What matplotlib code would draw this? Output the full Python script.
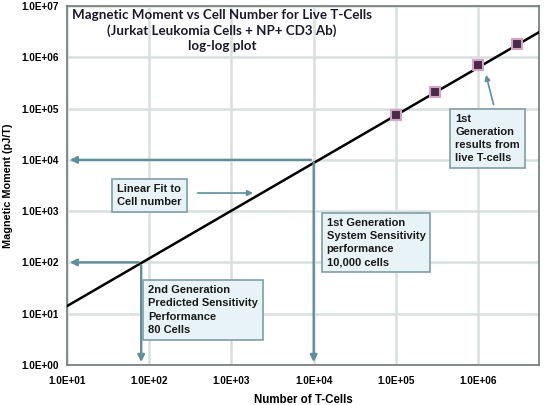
import math
import matplotlib
matplotlib.use("Agg")
import matplotlib.pyplot as plt
from matplotlib.ticker import LogLocator, FuncFormatter, NullLocator

# fit line end points and measured points
fit_cells = [10, 5.5e6]
fit_moment = [14, 3.1e6]
cells = [1e5, 3e5, 1e6, 3e6]
moment = [7.5e4, 2.1e5, 7.2e5, 1.8e6]

# sensitivity markers (cells, moment)
gen1_cells, gen1_moment = 1e4, 1e4
gen2_cells, gen2_moment = 80, 100

title_lines = ["Magnetic Moment vs Cell Number for Live T-Cells",
               "(Jurkat Leukomia Cells + NP+ CD3 Ab)",
               "log-log plot"]

plt.rcParams['font.family'] = ['Liberation Sans', 'DejaVu Sans']

arrow_col = '#5f8f99'
box_face = '#e8f3f8'
box_edge = '#7f9ea6'

fig = plt.figure(figsize=(5.44, 4.05), dpi=100)
ax = fig.add_axes([0.123, 0.099, 0.868, 0.886])
ax.set_xscale('log')
ax.set_yscale('log')
ax.set_xlim(10, 5.5e6)
ax.set_ylim(1, 1e7)

ax.xaxis.set_major_locator(LogLocator(base=10, numticks=10))
ax.yaxis.set_major_locator(LogLocator(base=10, numticks=10))
ax.xaxis.set_minor_locator(NullLocator())
ax.yaxis.set_minor_locator(NullLocator())
fmt = FuncFormatter(lambda v, p: "1.0E+%02d" % round(math.log10(v)))
ax.xaxis.set_major_formatter(fmt)
ax.yaxis.set_major_formatter(fmt)
ax.tick_params(labelsize=7.2, length=0)
ax.tick_params(axis='x', pad=8)
ax.tick_params(axis='y', pad=6)
for lab in ax.get_xticklabels() + ax.get_yticklabels():
    lab.set_fontweight('bold')

ax.grid(True, color='#d9dfdf', linewidth=1.8)
for s in ax.spines.values():
    s.set_color('#707878')
    s.set_linewidth(1.2)

ax.plot(fit_cells, fit_moment, color='black', linewidth=1.8, zorder=3)
ax.plot(cells, moment, linestyle='none', marker='s', markersize=6.5,
        color='#4a2848', markeredgecolor='#d4a4c4', markeredgewidth=1.5, zorder=4)

ax.set_xlabel('Number of T-Cells', fontsize=8.3, fontweight='bold', labelpad=6)
ax.set_ylabel('Magnetic Moment (pJ/T)', fontsize=7.8, fontweight='bold', labelpad=6)

ax.text(0.328, 0.992, "\n".join(title_lines), transform=ax.transAxes,
        ha='center', va='top', fontsize=9.6, family=['Lato', 'DejaVu Sans'],
        fontweight='bold', color='#1a1a2a', linespacing=1.3)

arr = dict(arrowstyle='-|>', color=arrow_col, lw=1.7, mutation_scale=10)
# 1st generation arrows
ax.annotate('', xy=(10, gen1_moment), xytext=(gen1_cells, gen1_moment), arrowprops=arr)
ax.annotate('', xy=(gen1_cells, 1), xytext=(gen1_cells, gen1_moment), arrowprops=arr)
# 2nd generation arrows
ax.annotate('', xy=(10, gen2_moment), xytext=(gen2_cells, gen2_moment), arrowprops=arr)
ax.annotate('', xy=(gen2_cells, 1), xytext=(gen2_cells, gen2_moment), arrowprops=arr)

box = dict(boxstyle='square,pad=0.45', facecolor=box_face, edgecolor=box_edge, linewidth=1.2)
tkw = dict(fontsize=8, fontweight='bold', color='#1a1a1a', bbox=box,
           ha='left', va='top', linespacing=1.4, transform=ax.transAxes)

ax.text(0.107, 0.505, "Linear Fit to\nCell number", **tkw)
ax.annotate('', xy=(0.40, 0.479), xytext=(0.271, 0.479), xycoords='axes fraction',
            arrowprops=dict(arrowstyle='-|>', color=arrow_col, lw=1.2, mutation_scale=8))
ax.text(0.55, 0.41, "1st Generation\nSystem Sensitivity\nperformance\n10,000 cells", **tkw)
ax.text(0.172, 0.222, "2nd Generation\nPredicted Sensitivity\nPerformance\n80 Cells", **tkw)
ax.text(0.822, 0.7, "1st\nGeneration\nresults from\nlive T-cells", **tkw)
ax.annotate('', xy=(0.886, 0.816), xytext=(0.905, 0.718), xycoords='axes fraction',
            arrowprops=dict(arrowstyle='-|>', color=arrow_col, lw=1.2, mutation_scale=8))

fig.savefig('out.png', dpi=100)
